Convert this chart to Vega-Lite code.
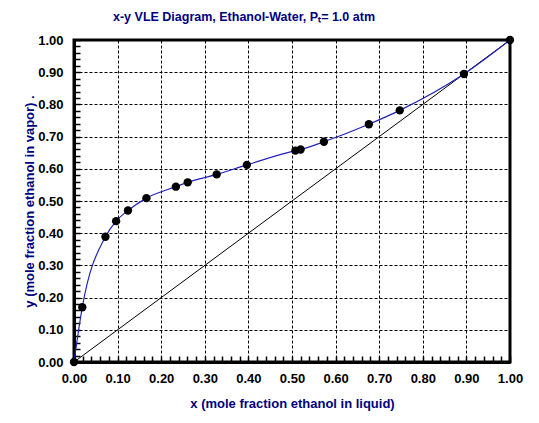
{
  "$schema": "https://vega.github.io/schema/vega-lite/v6.json",
  "autosize": "none",
  "width": 436,
  "height": 322,
  "padding": {"left": 74, "top": 40, "right": 29, "bottom": 61},
  "background": "white",
  "config": {
    "font": "Liberation Sans",
    "view": {"stroke": "black", "strokeWidth": 3},
    "title": {"font": "Liberation Sans", "fontSize": 12.5, "fontWeight": "bold", "color": "#000080"}
  },
  "title": {"text": "x-y VLE Diagram, Ethanol-Water, Pₜ= 1.0 atm", "anchor": "start", "frame": "group", "dx": 39, "offset": 11},
  "datasets": {
    "vle": [
      {"x": 0.0, "y": 0.0},
      {"x": 0.019, "y": 0.17},
      {"x": 0.0721, "y": 0.3891},
      {"x": 0.0966, "y": 0.4375},
      {"x": 0.1238, "y": 0.4704},
      {"x": 0.1661, "y": 0.5089},
      {"x": 0.2337, "y": 0.5445},
      {"x": 0.2608, "y": 0.558},
      {"x": 0.3273, "y": 0.5826},
      {"x": 0.3965, "y": 0.6122},
      {"x": 0.5079, "y": 0.6564},
      {"x": 0.5198, "y": 0.6599},
      {"x": 0.5732, "y": 0.6841},
      {"x": 0.6763, "y": 0.7385},
      {"x": 0.7472, "y": 0.7815},
      {"x": 0.8943, "y": 0.8943},
      {"x": 1.0, "y": 1.0}
    ],
    "diag": [
      {"x": 0.0, "y": 0.0},
      {"x": 1.0, "y": 1.0}
    ]
  },
  "layer": [
    {
      "data": {"name": "diag"},
      "mark": {"type": "line", "color": "black", "strokeWidth": 1},
      "encoding": {
        "x": {"field": "x", "type": "quantitative", "scale": {"domain": [0, 1], "nice": false}},
        "y": {"field": "y", "type": "quantitative", "scale": {"domain": [0, 1], "nice": false}}
      }
    },
    {
      "data": {"name": "vle"},
      "mark": {"type": "line", "color": "#2222b8", "strokeWidth": 1.2, "interpolate": "monotone"},
      "encoding": {
        "x": {"field": "x", "type": "quantitative"},
        "y": {"field": "y", "type": "quantitative"}
      }
    },
    {
      "data": {"name": "vle"},
      "mark": {"type": "circle", "color": "black", "opacity": 1, "size": 70},
      "encoding": {
        "x": {
          "field": "x", "type": "quantitative",
          "axis": {
            "title": "x (mole fraction ethanol in liquid)",
            "titleColor": "#000080", "titleFont": "Liberation Sans", "titleFontSize": 13, "titleFontWeight": "bold", "titlePadding": 12,
            "tickCount": 200,
            "values": [0,0.02,0.04,0.06,0.08,0.1,0.12,0.14,0.16,0.18,0.2,0.22,0.24,0.26,0.28,0.3,0.32,0.34,0.36,0.38,0.4,0.42,0.44,0.46,0.48,0.5,0.52,0.54,0.56,0.58,0.6,0.62,0.64,0.66,0.68,0.7,0.72,0.74,0.76,0.78,0.8,0.82,0.84,0.86,0.88,0.9,0.92,0.94,0.96,0.98,1],
            "labelExpr": "round(datum.value*100) % 10 == 0 ? format(datum.value, '.2f') : ''",
            "labelFont": "Liberation Sans", "labelFontSize": 13, "labelFontWeight": "bold", "labelColor": "black",
            "labelPadding": 16, "labelFlush": false, "labelOverlap": false,
            "domainColor": "black", "domainWidth": 3,
            "tickColor": "black", "tickWidth": 1.5, "tickSize": -6,
            "grid": true, "gridColor": "black", "gridDash": [3, 2], "gridWidth": 1,
            "gridOpacity": {"condition": {"test": "round(datum.value*100) % 10 == 0 && datum.value > 0.01 && datum.value < 0.99", "value": 1}, "value": 0}
          }
        },
        "y": {
          "field": "y", "type": "quantitative",
          "axis": {
            "title": "y (mole fraction ethanol in vapor)  .",
            "titleColor": "#000080", "titleFont": "Liberation Sans", "titleFontSize": 13, "titleFontWeight": "bold", "titlePadding": 1,
            "tickCount": 200,
            "values": [0,0.02,0.04,0.06,0.08,0.1,0.12,0.14,0.16,0.18,0.2,0.22,0.24,0.26,0.28,0.3,0.32,0.34,0.36,0.38,0.4,0.42,0.44,0.46,0.48,0.5,0.52,0.54,0.56,0.58,0.6,0.62,0.64,0.66,0.68,0.7,0.72,0.74,0.76,0.78,0.8,0.82,0.84,0.86,0.88,0.9,0.92,0.94,0.96,0.98,1],
            "labelExpr": "round(datum.value*100) % 10 == 0 ? format(datum.value, '.2f') : ''",
            "labelFont": "Liberation Sans", "labelFontSize": 13, "labelFontWeight": "bold", "labelColor": "black",
            "labelPadding": 17, "labelFlush": false, "labelOverlap": false,
            "domainColor": "black", "domainWidth": 3,
            "tickColor": "black", "tickWidth": 1.5, "tickSize": -6,
            "grid": true, "gridColor": "black", "gridDash": [3, 2], "gridWidth": 1,
            "gridOpacity": {"condition": {"test": "round(datum.value*100) % 10 == 0 && datum.value > 0.01 && datum.value < 0.99", "value": 1}, "value": 0}
          }
        }
      }
    }
  ]
}
